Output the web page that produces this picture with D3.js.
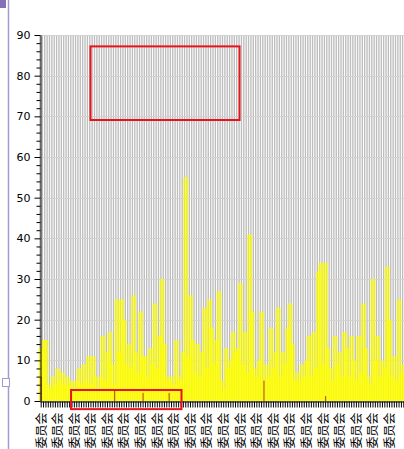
<!DOCTYPE html>
<html><head><meta charset="utf-8">
<script src="https://cdn.jsdelivr.net/npm/d3@7/dist/d3.min.js"></script>
<style>body{margin:0;background:#fff}svg{display:block}</style>
</head><body>
<script>
// ---- data ----
const values = [13,15,15,4,3,6,4,8,5,7,4,6,4,5,3,5,8,4,9,5,
  11,4,11,6,3,6,16,5,12,17,9,4,25,12,25,20,9,14,8,26,
  12,7,22,11,11,6,13,9,24,8,16,30,14,6,5,6,4,15,6,5,
  12,55,11,26,15,7,14,6,12,23,8,25,18,9,15,27,5,3,13,8,
  10,17,12,13,29,9,17,7,41,22,8,6,10,22,5,9,6,18,8,12,
  23,6,12,9,18,24,14,5,7,5,9,6,10,16,6,17,8,32,34,9,
  34,13,8,5,16,9,12,6,17,13,6,16,10,5,16,7,24,13,6,4,
  30,10,16,6,10,8,33,20,6,11,5,25,7,9];
const categories = values.map((_, i) => "第" + (i + 1) + "村民委员会");
const accentIdx = [0, 31, 43, 54, 94, 120];
const accentVal = [6, 2.7, 2, 2, 5, 1.2];
const yTicks = [0,10,20,30,40,50,60,70,80,90];
const yMinor = [2,4,6,8,12,14,16,18,22,24,26,28,32,34,36,38,42,44,46,48,52,54,56,58,62,64,66,68,72,74,76,78,82,84,86,88];
const labelEvery = 7;
// annotation boxes in data units: [catStart, catEnd, yTop, yBottom]
const boxes = [[21.3, 84.2, 87.2, 69.1], [13.1, 59.7, 2.7, -2.0]];

// ---- layout ----
const W = 404, H = 449;
const svg = d3.select("body").append("svg").attr("width", W).attr("height", H);
svg.append("rect").attr("width", W).attr("height", H).attr("fill", "#fff");

const step = 2.37;
const x = d3.scaleBand().domain(categories).range([40, 40 + categories.length * step]).padding(0);
const y = d3.scaleLinear().domain([0, 90]).range([401, 35]);
const xPos = t => 40 + t * step; // continuous position for annotation boxes
const bw = x.bandwidth();

// vertical grid
svg.append("g").selectAll("line").data(categories).join("line")
  .attr("x1", d => x(d)).attr("x2", d => x(d))
  .attr("y1", y(90)).attr("y2", y(0))
  .attr("stroke", "#bdbdbd").attr("stroke-width", 1.35);
// horizontal grid
svg.append("g").selectAll("line").data(yTicks).join("line")
  .attr("x1", 40).attr("x2", W).attr("y1", d => Math.round(y(d)) + 0.5).attr("y2", d => Math.round(y(d)) + 0.5)
  .attr("stroke", "#d2d2d2").attr("stroke-width", 1);

// bars
svg.append("g").selectAll("rect").data(values).join("rect")
  .attr("x", (d, i) => x(categories[i]) + bw / 2 - 2.6)
  .attr("width", 5.2)
  .attr("y", d => y(d))
  .attr("height", d => y(0) - y(d))
  .attr("fill", "#ffff00").attr("fill-opacity", 0.64);

// accent thin bars
svg.append("g").selectAll("rect").data(accentIdx).join("rect")
  .attr("x", (d) => x(categories[d]) + bw / 2 - 0.6)
  .attr("width", 1.2)
  .attr("y", (d, i) => y(accentVal[i]))
  .attr("height", (d, i) => y(0) - y(accentVal[i]))
  .attr("fill", "#c0600a");

// y axis
const yAxis = svg.append("g").attr("transform", "translate(40.5,0)")
  .call(d3.axisLeft(y).tickValues(yTicks).tickSize(6).tickSizeOuter(0).tickFormat(d3.format("d")));
yAxis.selectAll("text").style("font-family", "DejaVu Sans").style("font-size", "11px").attr("fill", "#000").attr("x", -10);
yAxis.select(".domain").attr("stroke", "#000");
svg.append("g").attr("transform", "translate(40.5,0)")
  .call(d3.axisLeft(y).tickValues(yMinor).tickSize(4).tickFormat(""))
  .select(".domain").remove();

// x axis
const xAxis = svg.append("g").attr("transform", "translate(0,401.5)")
  .call(d3.axisBottom(x).tickSize(6).tickSizeOuter(0)
    .tickFormat((d, i) => i % labelEvery === 0 ? d : ""));
xAxis.select(".domain").attr("stroke", "#000");
xAxis.selectAll("text")
  .attr("transform", "rotate(-90)")
  .attr("x", -11).attr("y", 0).attr("dy", "0.36em")
  .style("text-anchor", "end")
  .style("font-family", "Noto Sans CJK SC").style("font-size", "12px").attr("fill", "#000");

// annotation boxes
svg.append("g").selectAll("rect").data(boxes).join("rect")
  .attr("x", d => xPos(d[0])).attr("width", d => xPos(d[1]) - xPos(d[0]))
  .attr("y", d => y(d[2])).attr("height", d => y(d[3]) - y(d[2]))
  .attr("fill", "none").attr("stroke", "#e8141c").attr("stroke-width", 2);

// window decorations on the left edge
svg.append("line").attr("x1", 8.5).attr("x2", 8.5).attr("y1", 0).attr("y2", H)
  .attr("stroke", "#a79ad2").attr("stroke-width", 1.5);
svg.append("rect").attr("x", 0).attr("y", 0).attr("width", 6).attr("height", 8).attr("fill", "#8270b8");
svg.append("rect").attr("x", 2.5).attr("y", 378.5).attr("width", 7).attr("height", 8)
  .attr("fill", "#fff").attr("stroke", "#a79ad2");
</script>
</body></html>
